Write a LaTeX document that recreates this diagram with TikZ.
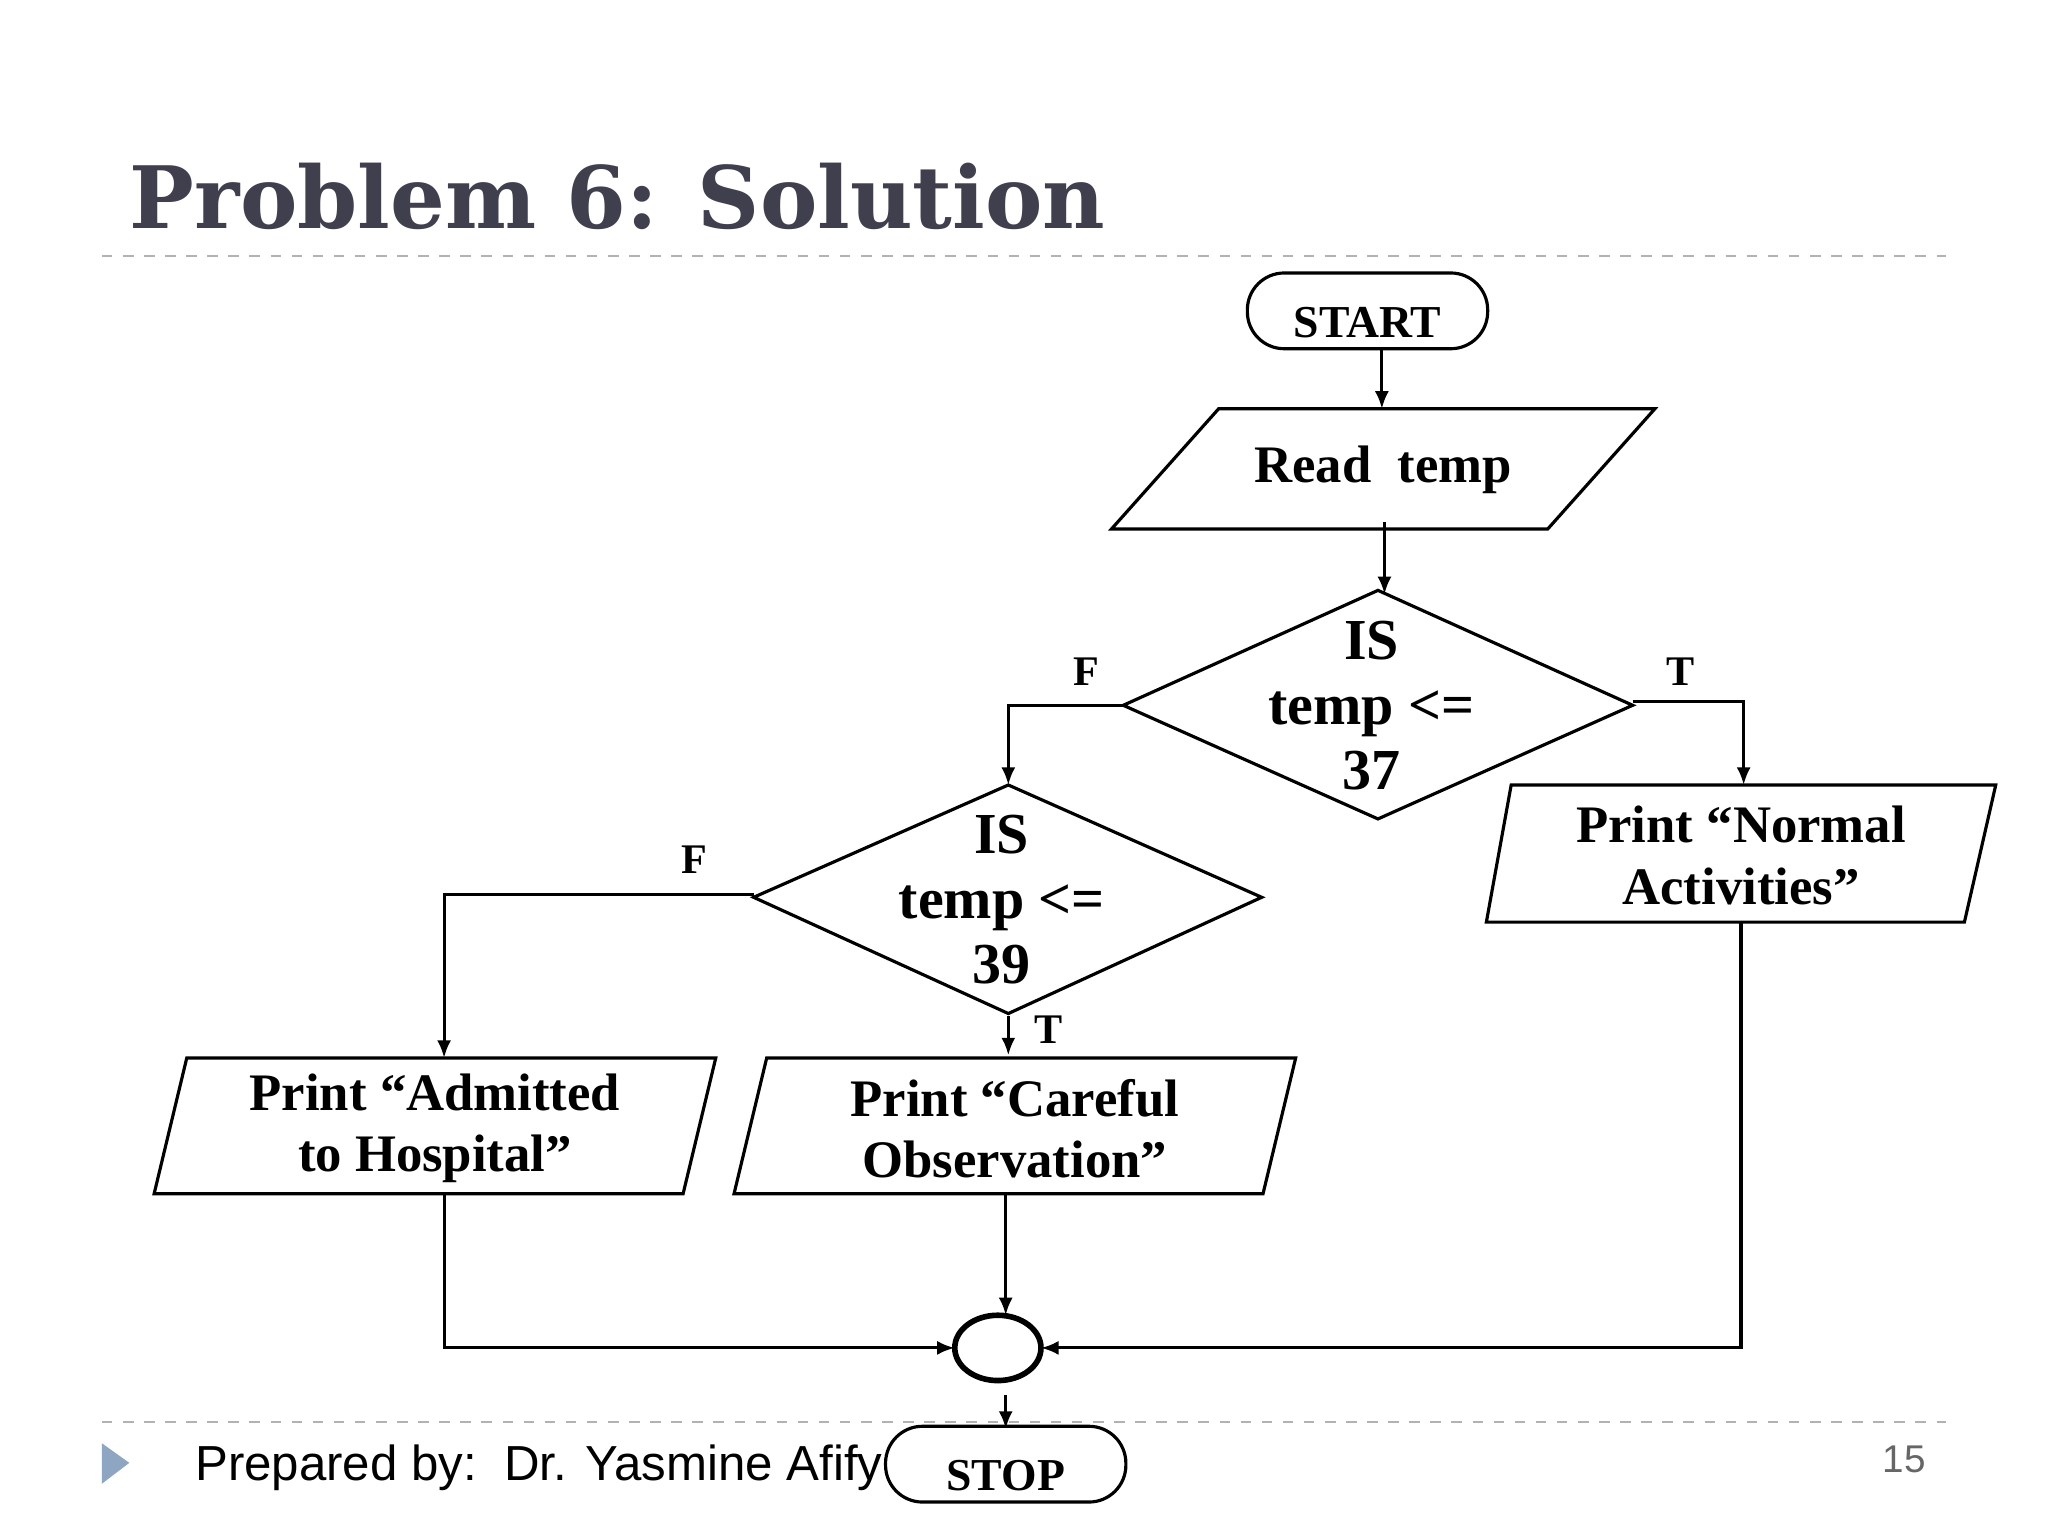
\documentclass[tikz,border=0pt]{standalone}
\usepackage{fontspec}
\setmainfont{Liberation Serif}
\newfontfamily\titlefont{DejaVu Serif}
\newfontfamily\footfont{Liberation Sans}
\usetikzlibrary{arrows.meta}
\definecolor{titlegray}{HTML}{3F3F4E}
\definecolor{bullet}{HTML}{8EA6C2}
\begin{document}
\begin{tikzpicture}[x=0.01306cm,y=-0.01306cm,
  box/.style={draw,line width=0.9pt},
  txt/.style={font=\bfseries\fontsize{15}{17.5}\selectfont,align=center},
  dtxt/.style={font=\bfseries\fontsize{16.5}{18.5}\selectfont,align=center},
  lbl/.style={font=\bfseries\fontsize{12}{14}\selectfont},
  flow/.style={line width=0.9pt,-{Latex[length=5pt,width=4pt]}},
  line/.style={line width=0.9pt}]
\useasboundingbox (0,0) rectangle (1568,1176);
% title and rules
\node[anchor=west,text=titlegray,font=\titlefont\bfseries\fontsize{24.5}{29}\selectfont] (title) at (90,150) {Problem 6: Solution};
\draw[gray!60,dashed,line width=0.6pt] (78,196) -- (1490,196);
\draw[gray!60,dashed,line width=0.6pt] (78,1089) -- (1490,1089);
% shapes
\draw[box,rounded corners=10.5pt] (955,209) rectangle (1139,267);
\node[txt,font=\bfseries\fontsize{13}{16}\selectfont] (start) at (1047,247) {START};
\draw[box] (851,405) -- (933,313) -- (1267,313) -- (1185,405) -- cycle;
\node[txt] (read) at (1059,360) {Read\ \ temp};
\draw[box] (860,540) -- (1055,452) -- (1250,540) -- (1055,627) -- cycle;
\node[dtxt] (d1) at (1050,540) {IS\\temp <=\\37};
\draw[box] (1138,706) -- (1157,601) -- (1528,601) -- (1504,706) -- cycle;
\node[txt] (normal) at (1333,655) {Print “Normal\\Activities”};
\draw[box] (577,687) -- (772,601) -- (966,687) -- (772,776) -- cycle;
\node[dtxt] (d2) at (767,689) {IS\\temp <=\\39};
\draw[box] (118,914) -- (143,810) -- (548,810) -- (523,914) -- cycle;
\node[txt] (adm) at (333,864) {Print “Admitted\\to Hospital”};
\draw[box] (562,914) -- (587,810) -- (992,810) -- (967,914) -- cycle;
\node[txt] (care) at (777,864) {Print “Careful\\Observation”};
\draw[line width=1.6pt] (764,1032) ellipse [x radius=33,y radius=25];
\draw[box,rounded corners=10.5pt] (678,1092) rectangle (862,1150);
\node[txt,font=\bfseries\fontsize{13}{16}\selectfont] (stop) at (770,1130) {STOP};
% connector points
\coordinate (startB) at (1058,268); \coordinate (readT) at (1058,313);
\coordinate (readB) at (1060,400); \coordinate (d1T) at (1060,455);
\coordinate (d1L) at (860,540); \coordinate (d1R) at (1250,537);
\coordinate (d2T) at (772,601); \coordinate (normT) at (1335,601);
\coordinate (d2L) at (577,685); \coordinate (admT) at (340,810);
\coordinate (d2B) at (772,778); \coordinate (careT) at (772,808);
\coordinate (careB) at (770,914); \coordinate (circT) at (770,1007);
\coordinate (admB) at (340,914); \coordinate (circL) at (731,1032);
\coordinate (normB) at (1333,706); \coordinate (circR) at (797,1032);
\coordinate (circB) at (770,1068); \coordinate (stopT) at (770,1094);
% connectors
\draw[flow] (startB) -- (readT);
\draw[flow] (readB) -- (d1T);
\draw[flow] (d1L) -- (d2T |- d1L) -- (d2T);
\draw[flow] (d1R) -- (normT |- d1R) -- (normT);
\draw[flow] (d2L) -- (admT |- d2L) -- (admT);
\draw[flow] (d2B) -- (careT);
\draw[flow] (careB) -- (circT);
\draw[flow] (admB) -- (admB |- circL) -- (circL);
\draw[flow] (normB) -- (normB |- circR) -- (circR);
\draw[flow] (circB) -- (stopT);
% labels
\node[lbl] (f1) at (832,514) {F};
\node[lbl] (t1) at (1287,514) {T};
\node[lbl] (f2) at (532,658) {F};
\node[lbl] (t2) at (803,788) {T};
% footer
\fill[bullet] (78,1105) -- (99,1120) -- (78,1136) -- cycle;
\node[anchor=west,font=\footfont\fontsize{14}{17}\selectfont] (prep) at (140,1124) {Prepared by:\ \ Dr. Yasmine Afify};
\node[font=\footfont\fontsize{11}{13}\selectfont,text=gray!80!black] (page) at (1458,1117) {15};
\end{tikzpicture}
\end{document}
